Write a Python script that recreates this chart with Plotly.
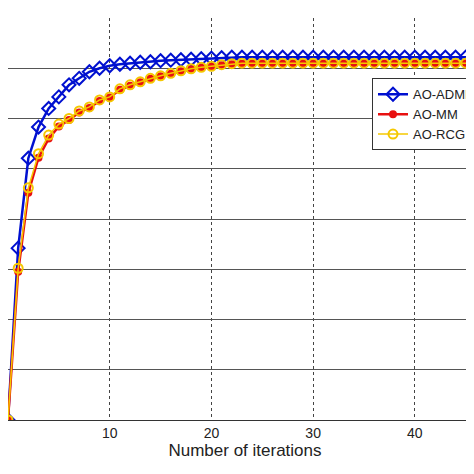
import plotly.graph_objects as go

iters = list(range(0, 48))

# (grid units: each horizontal gridline = 1)
admm = [0, 3.42, 5.21, 5.83, 6.2, 6.43, 6.67, 6.8, 6.93, 7.0, 7.05, 7.08, 7.1, 7.12,
        7.13, 7.15, 7.16, 7.17, 7.18, 7.19, 7.2, 7.21] + [7.22] * 26
mm = [0, 2.95, 4.52, 5.22, 5.6, 5.84, 5.97, 6.12, 6.21, 6.35, 6.42, 6.57, 6.65, 6.72,
      6.79, 6.84, 6.89, 6.94, 6.98, 7.01, 7.03, 7.06, 7.08, 7.09] + [7.1] * 24
rcg = [0, 3.02, 4.62, 5.3, 5.67, 5.89, 6.0, 6.15, 6.23, 6.37, 6.43, 6.59, 6.67, 6.73,
       6.8, 6.85, 6.9, 6.95, 6.99, 7.02, 7.04, 7.07, 7.09, 7.1] + [7.1] * 24

fig = go.Figure()
fig.add_trace(go.Scatter(x=iters, y=admm, name='AO-ADMM', mode='lines+markers',
                         line=dict(color='#0010d0', width=2.5),
                         marker=dict(symbol='diamond-open', size=10, color='#0010d0',
                                     line=dict(width=2))))
fig.add_trace(go.Scatter(x=iters, y=mm, name='AO-MM', mode='lines+markers',
                         line=dict(color='#e81010', width=2.5),
                         marker=dict(symbol='circle', size=8, color='#e81010')))
fig.add_trace(go.Scatter(x=iters, y=rcg, name='AO-RCG', mode='lines+markers',
                         line=dict(color='#f5c800', width=1.5),
                         marker=dict(symbol='circle-open', size=9, color='#f5c800',
                                     line=dict(width=2))))

fig.update_layout(
    width=474, height=474,
    margin=dict(l=0, r=0, t=10, b=62),
    paper_bgcolor='white', plot_bgcolor='white',
    font=dict(family='Liberation Sans, Arial', size=14, color='#222'),
    showlegend=True,
    legend=dict(x=1, y=0.85, xanchor='right', yanchor='top',
                bgcolor='white', bordercolor='#333', borderwidth=1,
                font=dict(size=13), tracegroupgap=0, itemwidth=30),
    xaxis=dict(title=dict(text='Number of iterations', standoff=4),
               range=[0, 46.6], tickvals=[0, 10, 20, 30, 40],
               showgrid=True, gridcolor='#444', griddash='dot', gridwidth=1,
               showline=True, linecolor='#333', zeroline=False, ticks=''),
    yaxis=dict(range=[0, 8], dtick=1, showticklabels=False,
               showgrid=True, gridcolor='#555', gridwidth=1,
               showline=True, linecolor='#999', mirror=True, zeroline=False, ticks=''),
)

fig.write_html('out.html')
